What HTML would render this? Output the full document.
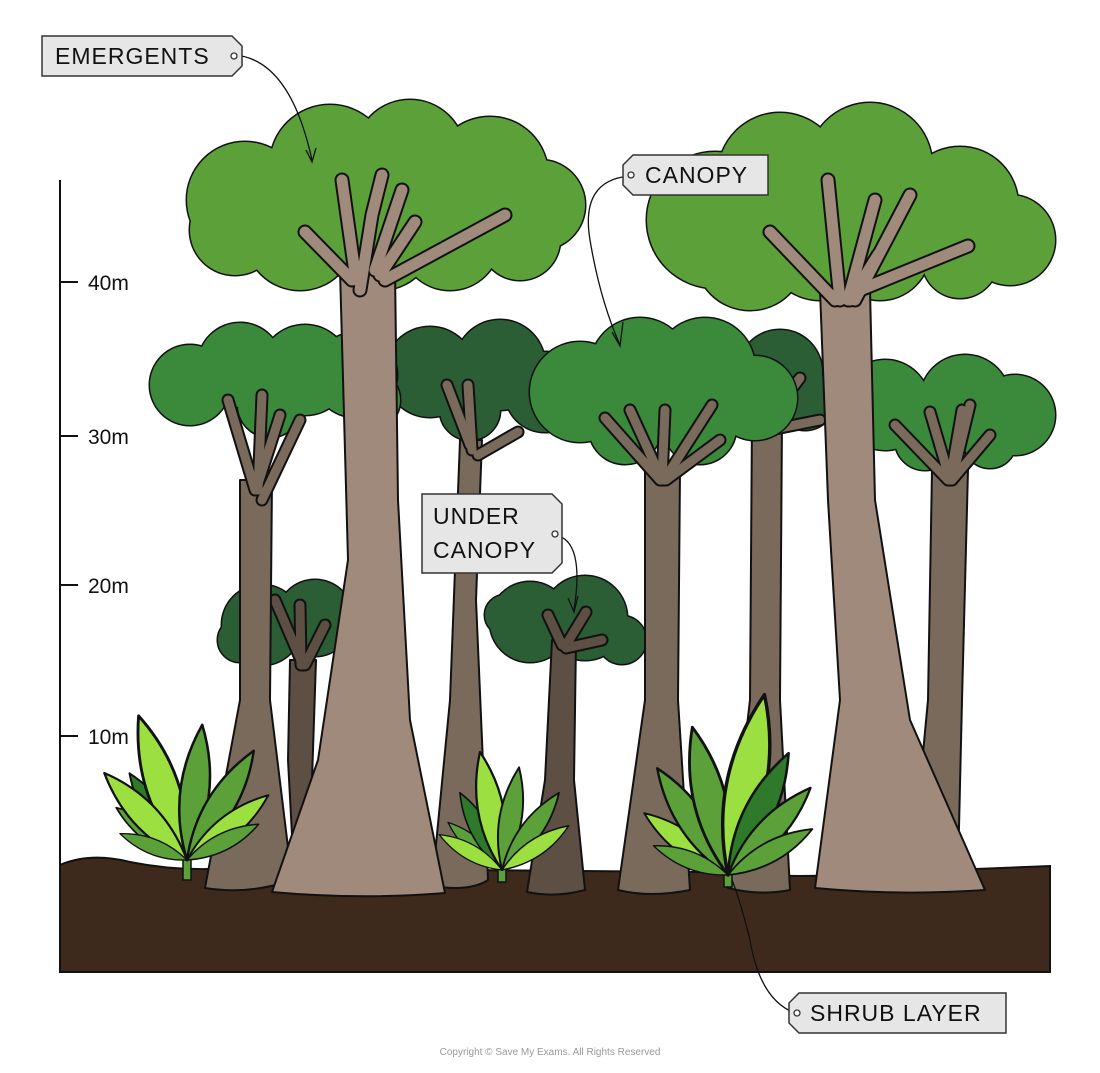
<!DOCTYPE html>
<html><head><meta charset="utf-8"><style>
body{margin:0;background:#fff}
svg{display:block}
text{font-family:"Liberation Sans",sans-serif}
</style></head><body>
<svg width="1100" height="1073" viewBox="0 0 1100 1073" xmlns="http://www.w3.org/2000/svg">
<defs>
<path id="lf" d="M0,0 Q18,-40 2,-80 Q-16,-40 0,0Z"/>
</defs>
<!-- background dark canopy -->
<g stroke="#111" stroke-width="3">
<circle cx="430" cy="372" r="45"/><circle cx="500" cy="365" r="45"/><circle cx="545" cy="392" r="40"/><circle cx="470" cy="410" r="30"/>
<circle cx="780" cy="372" r="42"/><circle cx="805" cy="400" r="30"/>
</g>
<g fill="#2b5e34">
<circle cx="430" cy="372" r="45"/><circle cx="500" cy="365" r="45"/><circle cx="545" cy="392" r="40"/><circle cx="470" cy="410" r="30"/>
<circle cx="780" cy="372" r="42"/><circle cx="805" cy="400" r="30"/>
</g>
<!-- understory canopies -->
<g stroke="#111" stroke-width="3">
<circle cx="262" cy="625" r="40"/><circle cx="315" cy="618" r="38"/><circle cx="240" cy="640" r="22"/>
<circle cx="530" cy="622" r="40"/><circle cx="585" cy="618" r="42"/><circle cx="622" cy="640" r="24"/><circle cx="505" cy="615" r="20"/>
</g>
<g fill="#2b5e34">
<circle cx="262" cy="625" r="40"/><circle cx="315" cy="618" r="38"/><circle cx="240" cy="640" r="22"/>
<circle cx="530" cy="622" r="40"/><circle cx="585" cy="618" r="42"/><circle cx="622" cy="640" r="24"/><circle cx="505" cy="615" r="20"/>
</g>
<!-- ground -->
<path d="M60,865 Q90,852 130,862 Q180,872 230,868 L700,872 Q800,880 900,872 L1050,866 L1050,972 L60,972Z" fill="#3e2a1c" stroke="#111" stroke-width="2"/>
<!-- back trunks -->
<g stroke="#111" stroke-width="2" stroke-linejoin="round">
<path d="M460,440 L482,440 L476,600 L488,880 Q470,892 432,886 L450,700Z" fill="#7a6a5c"/>
<path d="M752,420 L782,420 L780,700 L790,890 Q760,896 728,888 L750,700Z" fill="#7a6a5c"/>
<path d="M290,660 L316,660 L312,780 L318,830 L292,835 L288,760Z" fill="#5e4f44"/>
<path d="M552,640 L576,640 L574,780 L585,890 Q555,898 527,892 L545,780Z" fill="#5e4f44"/>
</g>
<g fill="none" stroke-linecap="round">
<g stroke="#111" stroke-width="13">
<path d="M470,445 L447,385"/><path d="M472,450 L468,385"/><path d="M478,455 L518,432"/>
<path d="M765,425 L800,378"/><path d="M770,430 L820,420"/>
<path d="M303,665 L275,600"/><path d="M305,665 L325,625"/><path d="M301,665 L300,605"/>
<path d="M562,645 L548,615"/><path d="M566,648 L602,640"/><path d="M566,645 L586,612"/>
</g>
<g stroke="#7a6a5c" stroke-width="9">
<path d="M470,445 L447,385"/><path d="M472,450 L468,385"/><path d="M478,455 L518,432"/>
<path d="M765,425 L800,378"/><path d="M770,430 L820,420"/>
</g>
<g stroke="#5e4f44" stroke-width="9">
<path d="M303,665 L275,600"/><path d="M305,665 L325,625"/><path d="M301,665 L300,605"/>
<path d="M562,645 L548,615"/><path d="M566,648 L602,640"/><path d="M566,645 L586,612"/>
</g>
</g>
<!-- mid canopies -->
<g stroke="#111" stroke-width="3">
<circle cx="190" cy="385" r="40"/><circle cx="240" cy="365" r="42"/><circle cx="305" cy="370" r="45"/><circle cx="355" cy="375" r="42"/><circle cx="270" cy="405" r="32"/><circle cx="370" cy="400" r="30"/>
<circle cx="580" cy="392" r="50"/><circle cx="640" cy="368" r="50"/><circle cx="705" cy="368" r="50"/><circle cx="755" cy="398" r="42"/><circle cx="625" cy="428" r="36"/><circle cx="700" cy="428" r="36"/>
<circle cx="885" cy="405" r="45"/><circle cx="965" cy="400" r="45"/><circle cx="1015" cy="415" r="40"/><circle cx="925" cy="440" r="30"/><circle cx="990" cy="442" r="26"/>
</g>
<g fill="#3b8a3b">
<circle cx="190" cy="385" r="40"/><circle cx="240" cy="365" r="42"/><circle cx="305" cy="370" r="45"/><circle cx="355" cy="375" r="42"/><circle cx="270" cy="405" r="32"/><circle cx="370" cy="400" r="30"/>
<circle cx="580" cy="392" r="50"/><circle cx="640" cy="368" r="50"/><circle cx="705" cy="368" r="50"/><circle cx="755" cy="398" r="42"/><circle cx="625" cy="428" r="36"/><circle cx="700" cy="428" r="36"/>
<circle cx="885" cy="405" r="45"/><circle cx="965" cy="400" r="45"/><circle cx="1015" cy="415" r="40"/><circle cx="925" cy="440" r="30"/><circle cx="990" cy="442" r="26"/>
</g>
<!-- mid trunks -->
<g stroke="#111" stroke-width="2" stroke-linejoin="round" fill="#7a6a5c">
<path d="M240,480 L272,480 L270,700 L292,880 Q250,895 205,888 L240,700Z"/>
<path d="M645,470 L680,470 L678,700 L690,890 Q650,898 618,890 L645,700Z"/>
<path d="M932,470 L968,470 L962,700 L958,870 L912,870 L928,700Z"/>
</g>
<g fill="none" stroke-linecap="round">
<g stroke="#111" stroke-width="13">
<path d="M255,490 L228,400"/><path d="M258,490 L262,395"/><path d="M262,500 L300,420"/><path d="M256,490 L280,415"/>
<path d="M660,480 L605,418"/><path d="M662,480 L630,410"/><path d="M662,480 L665,410"/><path d="M664,480 L712,405"/><path d="M666,480 L720,440"/>
<path d="M948,480 L895,425"/><path d="M950,480 L930,412"/><path d="M950,480 L962,410"/><path d="M952,480 L990,435"/><path d="M952,480 L970,405"/>
</g>
<g stroke="#7a6a5c" stroke-width="9">
<path d="M255,490 L228,400"/><path d="M258,490 L262,395"/><path d="M262,500 L300,420"/><path d="M256,490 L280,415"/>
<path d="M660,480 L605,418"/><path d="M662,480 L630,410"/><path d="M662,480 L665,410"/><path d="M664,480 L712,405"/><path d="M666,480 L720,440"/>
<path d="M948,480 L895,425"/><path d="M950,480 L930,412"/><path d="M950,480 L962,410"/><path d="M952,480 L990,435"/><path d="M952,480 L970,405"/>
</g>
</g>
<!-- emergent canopies -->
<g stroke="#111" stroke-width="3">
<circle cx="245" cy="200" r="58"/><circle cx="330" cy="165" r="60"/><circle cx="410" cy="155" r="55"/><circle cx="490" cy="175" r="58"/><circle cx="540" cy="205" r="45"/><circle cx="300" cy="235" r="55"/><circle cx="450" cy="240" r="50"/><circle cx="380" cy="235" r="55"/><circle cx="235" cy="230" r="45"/><circle cx="520" cy="240" r="40"/>
<circle cx="715" cy="220" r="68"/><circle cx="780" cy="175" r="62"/><circle cx="870" cy="165" r="62"/><circle cx="960" cy="205" r="58"/><circle cx="1010" cy="240" r="45"/><circle cx="750" cy="255" r="55"/><circle cx="880" cy="250" r="50"/><circle cx="960" cy="260" r="38"/><circle cx="820" cy="245" r="55"/>
</g>
<g fill="#5ca03a">
<circle cx="245" cy="200" r="58"/><circle cx="330" cy="165" r="60"/><circle cx="410" cy="155" r="55"/><circle cx="490" cy="175" r="58"/><circle cx="540" cy="205" r="45"/><circle cx="300" cy="235" r="55"/><circle cx="450" cy="240" r="50"/><circle cx="380" cy="235" r="55"/><circle cx="235" cy="230" r="45"/><circle cx="520" cy="240" r="40"/>
<circle cx="715" cy="220" r="68"/><circle cx="780" cy="175" r="62"/><circle cx="870" cy="165" r="62"/><circle cx="960" cy="205" r="58"/><circle cx="1010" cy="240" r="45"/><circle cx="750" cy="255" r="55"/><circle cx="880" cy="250" r="50"/><circle cx="960" cy="260" r="38"/><circle cx="820" cy="245" r="55"/>
</g>
<!-- emergent trunks -->
<g stroke="#111" stroke-width="2" stroke-linejoin="round" fill="#a08a7c">
<path d="M340,270 L395,270 L398,500 L410,720 L445,893 Q360,900 272,892 L318,760 L348,560Z"/>
<path d="M820,290 L870,290 L875,500 L910,720 L985,890 Q900,896 815,888 L840,700 L828,500Z"/>
</g>
<g fill="none" stroke-linecap="round" stroke-linejoin="round">
<g stroke="#111" stroke-width="15">
<path d="M352,280 L305,232"/><path d="M356,280 L342,180"/><path d="M360,290 L372,215 L382,175"/><path d="M375,270 L402,190"/><path d="M385,280 L505,215"/><path d="M380,275 L415,222"/>
<path d="M835,300 L770,232"/><path d="M840,300 L828,180"/><path d="M848,300 L875,200"/><path d="M855,300 L910,195"/><path d="M860,290 L968,246"/><path d="M850,300 L878,255"/>
</g>
<g stroke="#a08a7c" stroke-width="11">
<path d="M352,280 L305,232"/><path d="M356,280 L342,180"/><path d="M360,290 L372,215 L382,175"/><path d="M375,270 L402,190"/><path d="M385,280 L505,215"/><path d="M380,275 L415,222"/>
<path d="M835,300 L770,232"/><path d="M840,300 L828,180"/><path d="M848,300 L875,200"/><path d="M855,300 L910,195"/><path d="M860,290 L968,246"/><path d="M850,300 L878,255"/>
</g>
</g>
<!-- shrubs -->
<g stroke="#111" stroke-width="1.5" stroke-linejoin="round">
<g transform="translate(187,860)">
<rect x="-4" y="-10" width="8" height="30" fill="#5ca03a"/>
<use href="#lf" transform="rotate(-55) scale(1.1)" fill="#5ca03a"/>
<use href="#lf" transform="rotate(-35) scale(1.3)" fill="#2f7a2a"/>
<use href="#lf" transform="rotate(-20) scale(1.9)" fill="#9be040"/>
<use href="#lf" transform="rotate(-45) scale(1.5)" fill="#9be040"/>
<use href="#lf" transform="rotate(5) scale(1.7)" fill="#5ca03a"/>
<use href="#lf" transform="rotate(30) scale(1.6)" fill="#5ca03a"/>
<use href="#lf" transform="rotate(50) scale(1.3)" fill="#9be040"/>
<use href="#lf" transform="rotate(62) scale(1.0)" fill="#5ca03a"/>
<use href="#lf" transform="rotate(-70) scale(0.9)" fill="#5ca03a"/>
</g>
<g transform="translate(502,870)">
<rect x="-4" y="-10" width="8" height="22" fill="#5ca03a"/>
<use href="#lf" transform="rotate(-50) scale(0.9)" fill="#5ca03a"/>
<use href="#lf" transform="rotate(-30) scale(1.1)" fill="#2f7a2a"/>
<use href="#lf" transform="rotate(-12) scale(1.5)" fill="#9be040"/>
<use href="#lf" transform="rotate(-62) scale(0.9)" fill="#9be040"/>
<use href="#lf" transform="rotate(8) scale(1.3)" fill="#5ca03a"/>
<use href="#lf" transform="rotate(35) scale(1.2)" fill="#5ca03a"/>
<use href="#lf" transform="rotate(55) scale(1.0)" fill="#9be040"/>
</g>
<g transform="translate(728,875)">
<rect x="-4" y="-10" width="8" height="22" fill="#5ca03a"/>
<use href="#lf" transform="rotate(-55) scale(1.3)" fill="#9be040"/>
<use href="#lf" transform="rotate(-35) scale(1.6)" fill="#5ca03a"/>
<use href="#lf" transform="rotate(-15) scale(1.9)" fill="#5ca03a"/>
<use href="#lf" transform="rotate(10) scale(2.3)" fill="#9be040"/>
<use href="#lf" transform="rotate(25) scale(1.7)" fill="#2f7a2a"/>
<use href="#lf" transform="rotate(42) scale(1.5)" fill="#5ca03a"/>
<use href="#lf" transform="rotate(60) scale(1.2)" fill="#5ca03a"/>
<use href="#lf" transform="rotate(-70) scale(1.0)" fill="#5ca03a"/>
</g>
</g>
<!-- axis -->
<g stroke="#111" stroke-width="2">
<line x1="60" y1="180" x2="60" y2="972"/>
<line x1="60" y1="282" x2="78" y2="282"/><line x1="60" y1="436" x2="78" y2="436"/>
<line x1="60" y1="585" x2="78" y2="585"/><line x1="60" y1="736" x2="78" y2="736"/>
</g>
<g font-size="21" fill="#111">
<text x="88" y="290">40m</text><text x="88" y="444">30m</text>
<text x="88" y="593">20m</text><text x="88" y="744">10m</text>
</g>
<!-- leader lines -->
<g fill="none" stroke="#111" stroke-width="1.3">
<path d="M235,55 Q290,60 312,160"/><path d="M306,150 L312,162 L316,148"/>
<path d="M630,176 Q580,180 590,240 Q600,300 620,345"/><path d="M612,332 L620,346 L623,322"/>
<path d="M555,535 Q585,540 574,610"/><path d="M568,598 L574,612 L578,596"/>
<path d="M795,1013 Q760,1000 750,940 Q740,900 732,880"/>
</g>
<!-- tags -->
<g stroke="#333" stroke-width="1.5" fill="#e6e6e6">
<path d="M42,36 L232,36 L242,46 L242,66 L232,76 L42,76Z"/>
<path d="M633,155 L768,155 L768,195 L633,195 L623,185 L623,165Z"/>
<path d="M422,494 L552,494 L562,504 L562,563 L552,573 L422,573Z"/>
<path d="M799,993 L1006,993 L1006,1033 L799,1033 L789,1023 L789,1003Z"/>
</g>
<g fill="#fff" stroke="#333" stroke-width="1.3">
<circle cx="234" cy="56" r="3"/><circle cx="631" cy="175" r="3"/><circle cx="555" cy="534" r="3"/><circle cx="797" cy="1013" r="3"/>
</g>
<g font-size="23" fill="#111" letter-spacing="1">
<text x="55" y="64">EMERGENTS</text>
<text x="645" y="183">CANOPY</text>
<text x="433" y="524">UNDER</text>
<text x="433" y="558">CANOPY</text>
<text x="810" y="1021">SHRUB LAYER</text>
</g>
<text x="550" y="1055" font-size="10" fill="#999" text-anchor="middle">Copyright © Save My Exams. All Rights Reserved</text>
</svg>
</body></html>
